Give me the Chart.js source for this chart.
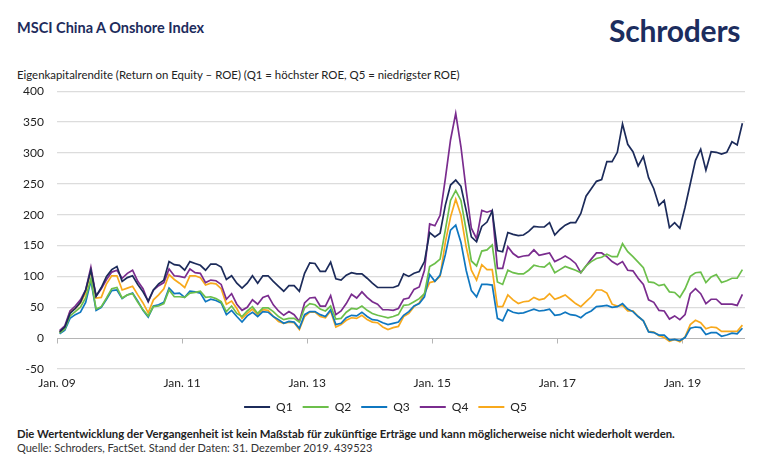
<!DOCTYPE html>
<html>
<head>
<meta charset="utf-8">
<script src="https://cdn.jsdelivr.net/npm/chart.js@4.4.1/dist/chart.umd.min.js"></script>
<style>
    body {
        margin: 0;
        width: 770px;
        height: 470px;
        background: #fff;
        font-family: Lato, 'Open Sans', sans-serif;
        position: relative;
        overflow: hidden;
        color: #222;
    }
    .title { position: absolute; left: 17px; top: 19px; font-size: 14.5px; font-weight: 700; color: #1d2b5c; }
    .logo { position: absolute; left: 609px; top: 12px; font-size: 30px; font-weight: 700; color: #1c2d5e; letter-spacing: -0.2px; }
    .ytitle { position: absolute; left: 17px; top: 68px; font-size: 11.4px; }
    .chartbox { position: absolute; left: 0; top: 71px; }
    .note { position: absolute; left: 17px; top: 427px; font-size: 11.3px; font-weight: 700; }
    .source { position: absolute; left: 17px; top: 441px; font-size: 11px; color: #333; }
</style>
</head>
<body>
<div class="title">MSCI China A Onshore Index</div>
<div class="logo">Schroders</div>
<div class="ytitle">Eigenkapitalrendite (Return on Equity – ROE) (Q1 = höchster ROE, Q5 = niedrigster ROE)</div>
<div class="chartbox"><canvas id="roeChart" width="770" height="352"></canvas></div>
<div class="note">Die Wertentwicklung der Vergangenheit ist kein Maßstab für zukünftige Erträge und kann möglicherweise nicht wiederholt werden.</div>
<div class="source">Quelle: Schroders, FactSet. Stand der Daten: 31. Dezember 2019. 439523</div>

<script>
// monthly values, Jan 2009 - Dec 2019 (one row per year)
const tickLabels = ['Jan. 09', 'Jan. 11', 'Jan. 13', 'Jan. 15', 'Jan. 17', 'Jan. 19'];
const seriesNames = ['Q1', 'Q2', 'Q3', 'Q4', 'Q5'];
const seriesColors = ['#1c2b5a', '#6cbf4b', '#0f77c0', '#7a2c8e', '#f8a91c'];

const q1 = [
    10, 18, 40, 48, 58, 78, 110, 68, 82, 100, 111, 116,
    92, 98, 101, 87, 75, 60, 78, 88, 94, 124, 119, 118,
    110, 124, 121, 118, 110, 120, 120, 115, 95, 101, 89, 81,
    89, 101, 89, 101, 101, 92, 84, 76, 85, 85, 76, 105,
    122, 121, 108, 108, 123, 96, 94, 102, 106, 104, 104, 97,
    89, 82, 82, 82, 82, 85, 104, 100, 105, 108, 124, 171,
    164, 170, 215, 248, 256, 246, 207, 164, 156, 181, 188, 206,
    142, 140, 171, 168, 166, 167, 173, 181, 180, 180, 187, 167,
    176, 183, 187, 187, 202, 230, 242, 254, 257, 286, 286, 301,
    347, 314, 302, 279, 294, 260, 242, 215, 223, 179, 187, 178,
    212, 250, 288, 306, 272, 302, 301, 298, 301, 318, 313, 348,
];
const q2 = [
    8, 15, 36, 43, 50, 65, 96, 47, 51, 65, 80, 82,
    65, 70, 72, 58, 46, 36, 51, 52, 56, 78, 67, 67,
    66, 73, 74, 76, 66, 67, 64, 59, 43, 52, 40, 35,
    44, 51, 40, 49, 49, 43, 35, 30, 32, 32, 26, 49,
    56, 54, 47, 44, 52, 31, 32, 42, 48, 47, 52, 45,
    40, 37, 35, 33, 35, 38, 53, 54, 59, 64, 72, 116,
    121, 128, 175, 223, 239, 223, 175, 125, 117, 141, 143, 151,
    91, 87, 110, 106, 104, 104, 110, 118, 116, 115, 122, 106,
    111, 116, 113, 110, 106, 117, 124, 129, 131, 136, 132, 132,
    153, 140, 132, 123, 114, 91, 90, 85, 87, 75, 74, 66,
    80, 100, 106, 107, 90, 99, 103, 90, 93, 97, 97, 111,
];
const q3 = [
    7, 13, 32, 38, 42, 58, 93, 45, 50, 63, 77, 78,
    64, 70, 73, 60, 45, 34, 52, 54, 58, 81, 72, 73,
    66, 76, 75, 73, 59, 63, 61, 57, 38, 45, 35, 26,
    36, 42, 35, 43, 42, 35, 30, 24, 27, 26, 16, 38,
    43, 43, 38, 35, 46, 22, 24, 33, 37, 36, 42, 35,
    30, 29, 25, 22, 24, 26, 37, 43, 52, 56, 67, 103,
    92, 102, 135, 175, 183, 155, 110, 77, 67, 87, 87, 86,
    32, 28, 46, 42, 40, 41, 44, 47, 44, 45, 47, 37,
    38, 42, 38, 37, 33, 40, 44, 51, 52, 53, 50, 51,
    56, 47, 43, 35, 28, 10, 9, 5, 5, -3, -2, -4,
    1, 16, 18, 17, 6, 9, 9, 3, 5, 8, 7, 16,
];
const q4 = [
    12, 20, 44, 52, 62, 78, 115, 68, 80, 95, 107, 110,
    97, 105, 110, 92, 80, 59, 78, 85, 90, 112, 101, 100,
    98, 112, 106, 105, 90, 94, 93, 87, 63, 72, 55, 45,
    50, 62, 55, 66, 69, 54, 44, 37, 43, 38, 27, 57,
    65, 66, 52, 52, 69, 38, 44, 56, 71, 65, 75, 66,
    59, 55, 46, 46, 45, 48, 63, 65, 79, 83, 110, 185,
    182, 199, 258, 321, 364, 310, 240, 178, 161, 207, 204, 207,
    113, 113, 148, 137, 131, 133, 134, 143, 134, 136, 138, 124,
    128, 133, 128, 121, 106, 117, 128, 138, 138, 132, 124, 119,
    124, 110, 109, 97, 87, 62, 58, 45, 44, 31, 36, 30,
    38, 72, 80, 72, 56, 63, 63, 55, 55, 55, 53, 71,
];
const q5 = [
    9, 17, 43, 48, 57, 73, 110, 65, 66, 88, 101, 101,
    78, 81, 84, 70, 57, 41, 62, 70, 80, 103, 95, 89,
    82, 101, 101, 98, 86, 89, 88, 80, 55, 60, 48, 32,
    40, 47, 38, 46, 45, 35, 27, 24, 26, 25, 14, 35,
    42, 42, 35, 33, 44, 18, 22, 29, 33, 32, 37, 30,
    26, 25, 18, 14, 17, 19, 35, 40, 51, 57, 72, 90,
    92, 100, 155, 196, 225, 199, 148, 110, 94, 119, 111, 111,
    51, 51, 70, 62, 56, 59, 60, 66, 62, 64, 72, 63,
    66, 70, 63, 56, 51, 59, 67, 78, 78, 73, 55, 52,
    53, 44, 44, 35, 28, 11, 10, 4, 1, -5, -2, -6,
    2, 22, 29, 25, 15, 18, 17, 11, 11, 11, 11, 21,
];

const seriesValues = [q1, q2, q3, q4, q5];
const MONTHS_PER_TICK = 24;

// zero line with small tick marks under it
const zeroAxis = {
    id: 'zeroAxis',
    beforeDatasetsDraw(chart) {
        const { ctx, chartArea, scales } = chart;
        const y0 = Math.round(scales.y.getPixelForValue(0)) + 0.5;
        ctx.save();
        ctx.strokeStyle = '#b5b5b5';
        ctx.lineWidth = 1;
        ctx.beginPath();
        ctx.moveTo(chartArea.left, y0);
        ctx.lineTo(chartArea.right, y0);
        tickLabels.forEach((_, i) => {
            const px = Math.round(scales.x.getPixelForValue(i * MONTHS_PER_TICK)) + 0.5;
            ctx.moveTo(px, y0);
            ctx.lineTo(px, y0 + 5);
        });
        ctx.stroke();
        ctx.restore();
    },
};

// legend sits a little right of the canvas centre in the original
const legendShift = {
    id: 'legendShift',
    afterLayout(chart) {
        if (!chart.legend) {
            return;
        }
        chart.legend.left += 13;
        chart.legend.right += 13;
    },
};

const datasets = seriesNames.map((name, idx) => ({
    label: name,
    data: seriesValues[idx].map((v, i) => ({ x: i + 0.5, y: v })),
    borderColor: seriesColors[idx],
    backgroundColor: seriesColors[idx],
    borderWidth: 1.7,
    pointRadius: 0,
    tension: 0,
}));

new Chart(document.getElementById('roeChart'), {
    type: 'line',
    data: { datasets },
    plugins: [zeroAxis, legendShift],
    options: {
        responsive: false,
        animation: false,
        layout: { padding: { top: 8, right: 25, left: 0, bottom: 0 } },
        scales: {
            x: {
                type: 'linear',
                min: 0,
                max: q1.length,
                grid: { display: false, drawTicks: false },
                border: { display: false },
                ticks: {
                    stepSize: MONTHS_PER_TICK,
                    autoSkip: false,
                    maxRotation: 0,
                    padding: 7,
                    color: '#222',
                    font: { family: 'Lato', size: 12 },
                    callback: (value) => tickLabels[value / MONTHS_PER_TICK] ?? '',
                },
                afterFit(scale) { scale.height = 22; },
            },
            y: {
                min: -50,
                max: 400,
                grid: {
                    drawTicks: false,
                    lineWidth: 1.3,
                    color: (ctx) => (ctx.tick && ctx.tick.value === 0 ? 'rgba(0,0,0,0)' : '#dcdcdc'),
                },
                border: { display: false },
                ticks: {
                    stepSize: 50,
                    padding: 13,
                    color: '#222',
                    font: { family: 'Lato', size: 12 },
                },
                afterFit(scale) { scale.width = 57; },
            },
        },
        plugins: {
            tooltip: { enabled: false },
            legend: {
                position: 'bottom',
                labels: {
                    boxWidth: 26,
                    boxHeight: 2,
                    padding: 10,
                    color: '#222',
                    font: { family: 'Lato', size: 12 },
                    generateLabels(chart) {
                        return Chart.defaults.plugins.legend.labels.generateLabels(chart)
                            .map((item) => ({ ...item, lineWidth: 0, fillStyle: item.strokeStyle }));
                    },
                },
            },
        },
    },
});
</script>
</body>
</html>
